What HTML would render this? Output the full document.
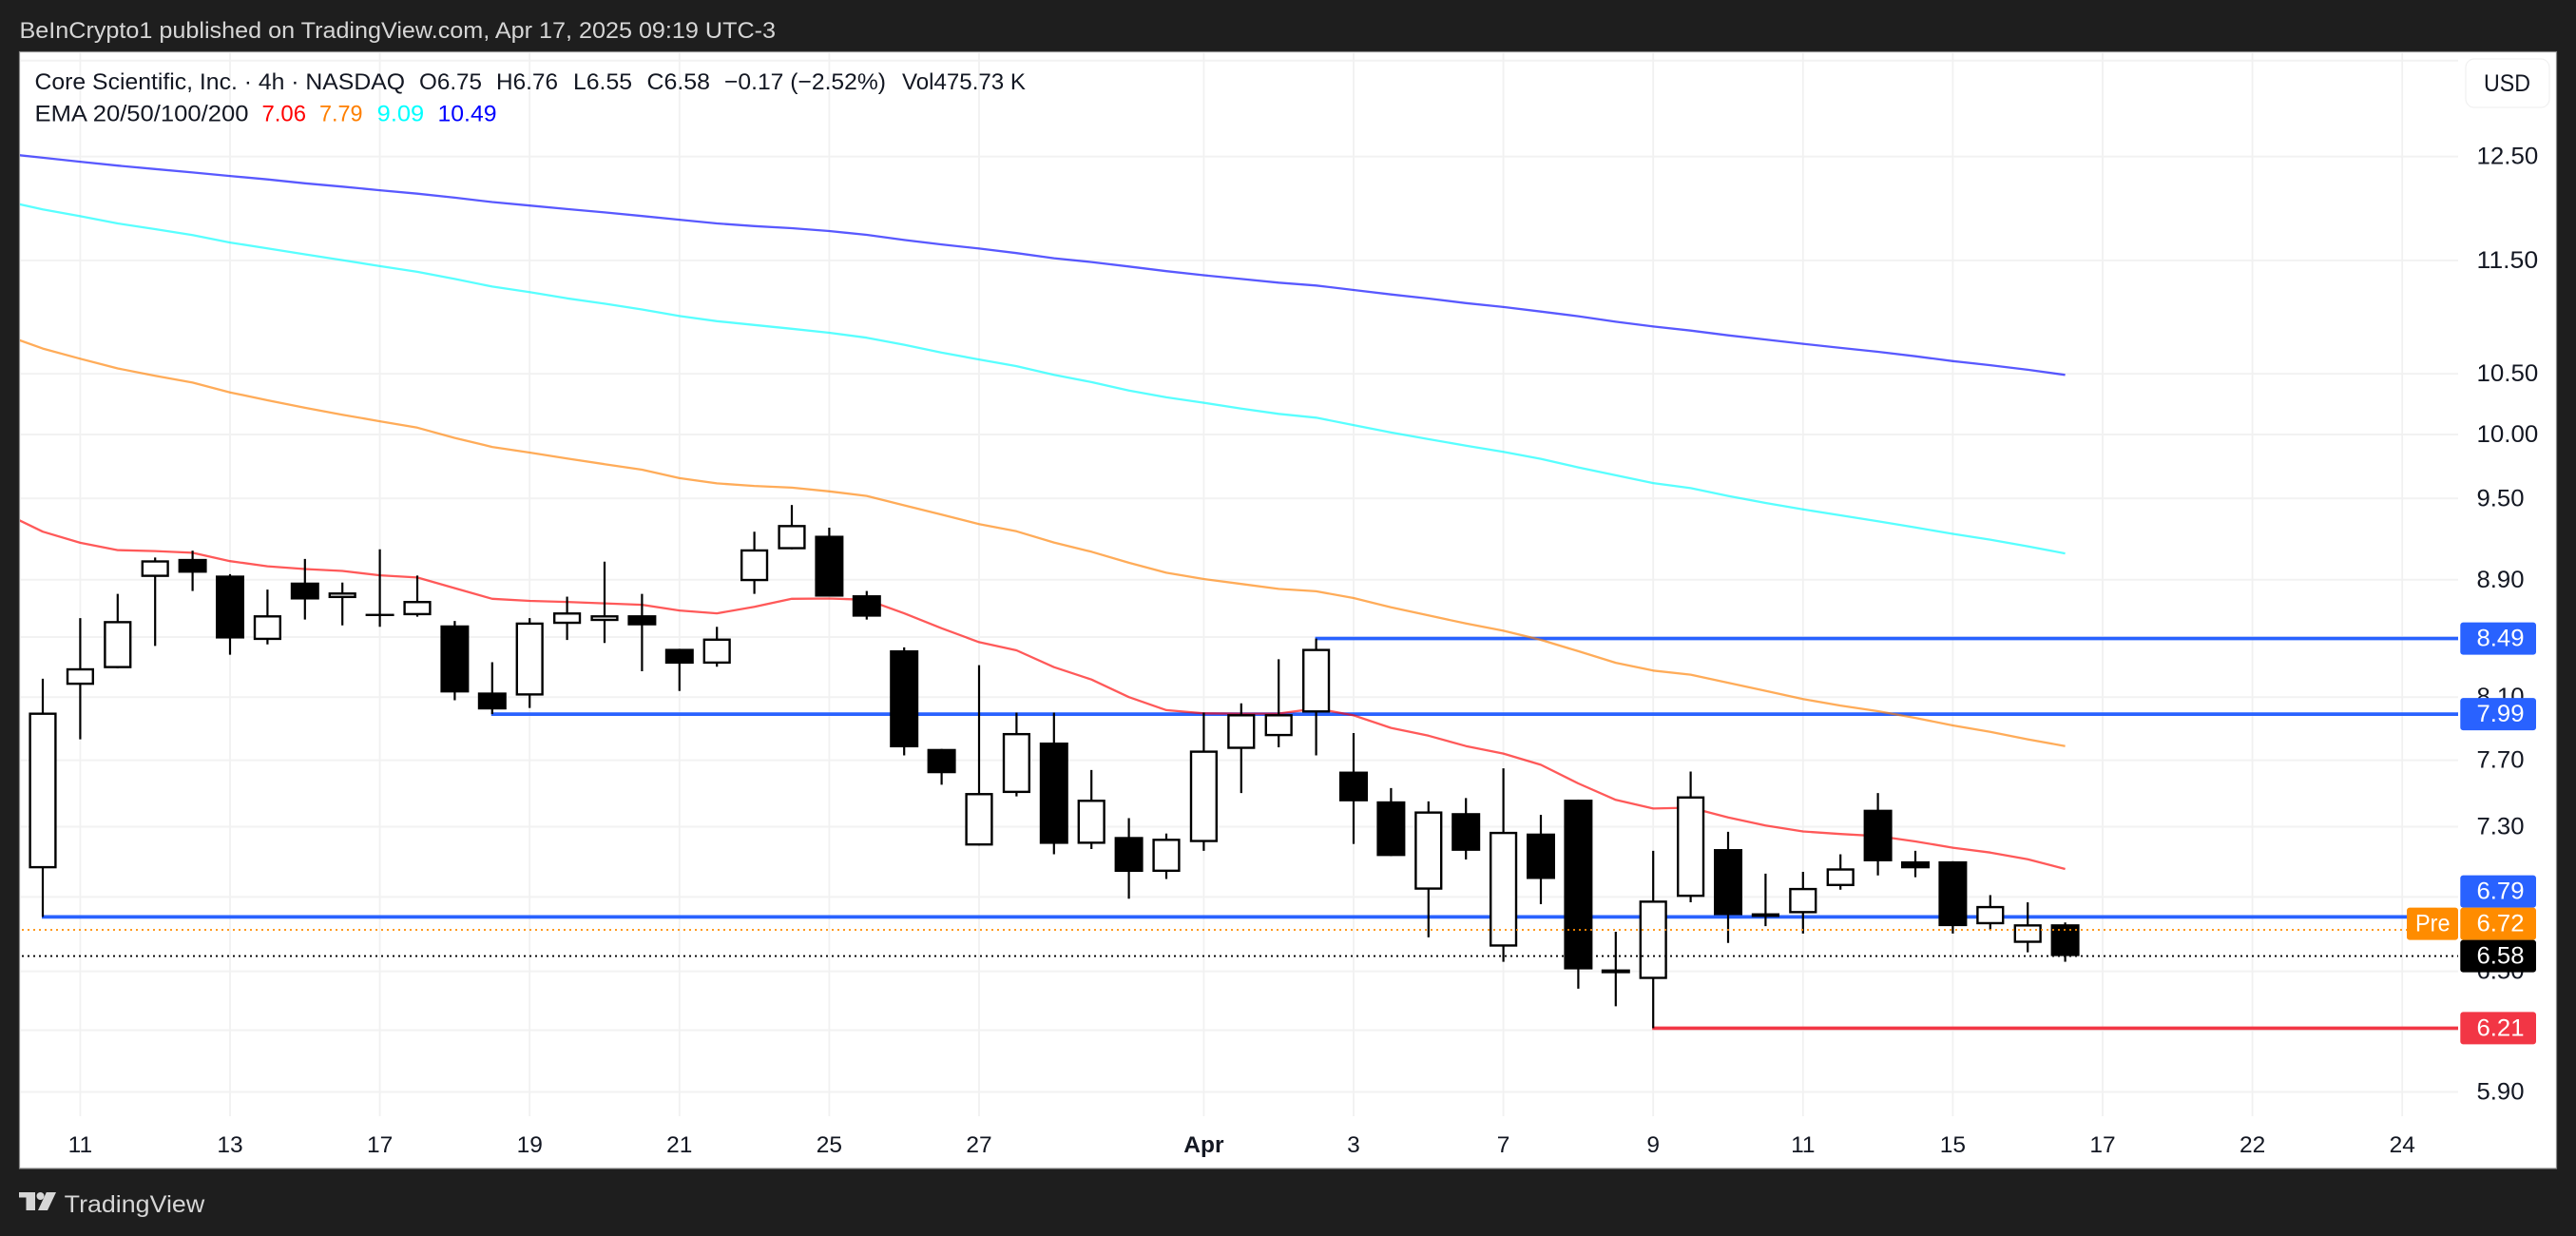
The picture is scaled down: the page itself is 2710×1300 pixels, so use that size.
<!DOCTYPE html>
<html lang="en">
<head>
<meta charset="utf-8">
<title>Core Scientific, Inc. 4h chart</title>
<style>
html,body{margin:0;padding:0;background:#1e1e1e;width:2710px;height:1300px;overflow:hidden}
svg{display:block}
text{font-family:"Liberation Sans",sans-serif}
</style>
</head>
<body>
<svg id="chart" xmlns="http://www.w3.org/2000/svg" width="2710" height="1300" viewBox="0 0 2710 1300">
  <rect x="0" y="0" width="2710" height="1300" fill="#1e1e1e"/>
  <text x="20.5" y="40" font-size="24" fill="#d6d6d6" textLength="795.5" lengthAdjust="spacingAndGlyphs">BeInCrypto1 published on TradingView.com, Apr 17, 2025 09:19 UTC-3</text>
  <rect x="20.5" y="54.5" width="2669" height="1174.5" fill="#ffffff" stroke="#8a8a8a" stroke-width="1.2"/>
  <defs>
    <clipPath id="plot-clip"><rect x="21" y="55" width="2565" height="1119"/></clipPath>
  </defs>
  <g id="grid"></g>
  <g id="levels"></g>
  <g id="emas" clip-path="url(#plot-clip)"></g>
  <g id="candles"></g>
  <g id="dots"></g>
  <g id="yaxis"></g>
  <g id="xaxis"></g>
  <g id="tags"></g>

  <g>
    <rect x="2594" y="62" width="88" height="51" rx="9" fill="#ffffff" stroke="#f0f0f0" stroke-width="1.2"/>
    <text x="2613" y="96" font-size="25" fill="#131722" textLength="49" lengthAdjust="spacingAndGlyphs">USD</text>
  </g>

  <g font-size="24.5" fill="#131722">
    <text x="36.5" y="94" textLength="389.5" lengthAdjust="spacingAndGlyphs">Core Scientific, Inc. · 4h · NASDAQ</text>
    <text x="441" y="94" textLength="66" lengthAdjust="spacingAndGlyphs">O6.75</text>
    <text x="522" y="94" textLength="65" lengthAdjust="spacingAndGlyphs">H6.76</text>
    <text x="603" y="94" textLength="62" lengthAdjust="spacingAndGlyphs">L6.55</text>
    <text x="680.5" y="94" textLength="66.5" lengthAdjust="spacingAndGlyphs">C6.58</text>
    <text x="762" y="94" textLength="170" lengthAdjust="spacingAndGlyphs">−0.17 (−2.52%)</text>
    <text x="949" y="94" textLength="130" lengthAdjust="spacingAndGlyphs">Vol475.73 K</text>
  </g>
  <g font-size="24.5">
    <text x="36.5" y="127.7" fill="#131722" textLength="225" lengthAdjust="spacingAndGlyphs">EMA 20/50/100/200</text>
    <text x="275.5" y="127.7" fill="#ff0000" textLength="46.5" lengthAdjust="spacingAndGlyphs">7.06</text>
    <text x="336" y="127.7" fill="#ff7f00" textLength="45.5" lengthAdjust="spacingAndGlyphs">7.79</text>
    <text x="396.7" y="127.7" fill="#00ffff" textLength="49.5" lengthAdjust="spacingAndGlyphs">9.09</text>
    <text x="460.5" y="127.7" fill="#0000ff" textLength="62" lengthAdjust="spacingAndGlyphs">10.49</text>
  </g>

  <g>
    <path fill="#d6d6d6" d="M20 1254H37V1273H27.5V1259.5H20ZM48.8 1254H59L50 1273H40Z"/>
    <circle cx="42.5" cy="1258" r="4" fill="#d6d6d6"/>
    <text x="67.7" y="1275" font-size="25" fill="#d6d6d6" textLength="147.5" lengthAdjust="spacingAndGlyphs">TradingView</text>
  </g>
</svg>

<script>
// ---- candles, bars 0..54 ----
const opens = [7.06,8.18,8.29,8.92,9.05,8.93,8.48,8.88,8.77,8.66,
  8.65,8.58,8.13,8.11,8.59,8.61,8.65,8.42,8.32,8.89,
  9.12,9.22,8.79,8.41,7.77,7.19,7.50,7.81,7.20,7.24,
  7.04,7.21,7.77,7.85,8.00,7.63,7.45,6.94,7.38,6.63,
  7.26,7.46,6.51,6.46,6.90,7.17,6.79,6.81,6.96,7.40,
  7.10,7.10,6.75,6.65,6.75];
const highs = [8.22,8.63,8.80,9.06,9.11,8.94,8.83,9.05,8.88,9.12,
  8.93,8.61,8.33,8.63,8.78,9.03,8.80,8.42,8.57,9.25,
  9.45,9.28,8.82,8.43,7.77,8.31,8.00,8.00,7.64,7.35,
  7.26,8.00,8.06,8.35,8.49,7.87,7.53,7.45,7.47,7.65,
  7.37,7.46,6.71,7.16,7.63,7.27,7.03,7.04,7.14,7.50,
  7.16,7.10,6.91,6.87,6.76];
const lows = [6.79,7.83,8.29,8.44,8.82,8.38,8.45,8.62,8.58,8.57,
  8.64,8.08,7.99,8.03,8.48,8.46,8.27,8.14,8.30,8.80,
  9.12,8.78,8.62,7.73,7.55,7.19,7.48,7.14,7.17,6.89,
  7.00,7.16,7.50,7.78,7.73,7.20,7.13,6.68,7.11,6.55,
  6.86,6.41,6.32,6.21,6.87,6.65,6.74,6.70,6.94,7.02,
  7.01,6.70,6.72,6.60,6.55];
const closes = [8.00,8.29,8.61,9.04,8.95,8.49,8.65,8.76,8.81,8.66,
  8.75,8.13,8.02,8.60,8.67,8.65,8.58,8.32,8.49,9.12,
  9.30,8.78,8.64,7.78,7.62,7.50,7.87,7.20,7.46,7.04,
  7.23,7.76,7.99,7.99,8.42,7.45,7.13,7.39,7.16,7.27,
  7.00,6.51,6.49,6.88,7.48,6.80,6.81,6.95,7.06,7.10,
  7.06,6.74,6.85,6.75,6.58];

// ---- moving averages, bars -1..54 ----
const ema20 = [9.386,9.250,9.168,9.114,9.107,9.095,9.034,8.997,8.977,8.963,8.932,
  8.916,8.840,8.765,8.750,8.743,8.733,8.723,8.683,8.663,8.709,
  8.765,8.767,8.758,8.663,8.560,8.465,8.410,8.297,8.215,8.100,
  8.016,7.995,7.993,7.994,8.026,7.982,7.902,7.853,7.788,7.741,
  7.672,7.558,7.459,7.407,7.412,7.355,7.307,7.272,7.257,7.245,
  7.214,7.178,7.150,7.112,7.056];
const ema50 = [10.830,10.714,10.627,10.545,10.483,10.426,10.344,10.279,10.217,10.160,10.107,
  10.055,9.973,9.901,9.856,9.809,9.765,9.722,9.656,9.616,9.596,
  9.583,9.554,9.519,9.448,9.377,9.307,9.253,9.170,9.102,9.022,
  8.950,8.905,8.870,8.835,8.818,8.770,8.705,8.649,8.593,8.543,
  8.481,8.404,8.326,8.274,8.247,8.194,8.141,8.087,8.045,8.009,
  7.966,7.918,7.877,7.830,7.788];
const ema100 = [12.060,11.980,11.915,11.846,11.792,11.735,11.666,11.612,11.556,11.502,11.447,
  11.395,11.330,11.261,11.210,11.155,11.107,11.056,10.998,10.952,10.919,
  10.886,10.851,10.808,10.747,10.679,10.621,10.564,10.491,10.430,10.360,
  10.303,10.258,10.211,10.167,10.136,10.076,10.016,9.963,9.911,9.862,
  9.807,9.740,9.678,9.618,9.579,9.519,9.466,9.417,9.372,9.328,
  9.281,9.234,9.191,9.142,9.090];
const ema200 = [12.528,12.487,12.447,12.409,12.375,12.341,12.306,12.272,12.234,12.201,12.166,
  12.132,12.094,12.051,12.017,11.983,11.951,11.917,11.881,11.846,11.821,
  11.801,11.774,11.738,11.690,11.648,11.610,11.567,11.520,11.485,11.444,
  11.401,11.364,11.330,11.296,11.270,11.230,11.190,11.153,11.112,11.078,
  11.037,10.996,10.947,10.906,10.870,10.829,10.792,10.755,10.720,10.687,
  10.648,10.607,10.572,10.534,10.490];

// ---- axes ----
const gridPrices = [13.5,12.5,11.5,10.5,10,9.5,8.9,8.5,8.1,7.7,7.3,6.9,6.5,6.2,5.9];
const priceTickLabels = ['12.50','11.50','10.50','10.00','9.50','8.90','8.10','7.70','7.30','6.50','5.90'];
const timeTickLabels = ['11','13','17','19','21','25','27','Apr','3','7','9','11','15','17','22','24'];
const timeTickBars = [1,5,9,13,17,21,25,31,35,39,43,47,51,55,59,63];

// ---- horizontal levels ----
const resistanceLevels = [8.49,7.99,6.79];
const resistanceStartBars = [34,12,0];
const supportLevels = [6.21];
const supportStartBars = [43];
const premarketPrice = 6.72;
const lastPrice = 6.58;

const NS = 'http://www.w3.org/2000/svg';
const PLOT_RIGHT = 2586;
const PLOT_BOTTOM = 1174;
function xScale(bar){ return 45 + 39.4 * bar; }
function yScale(price){ return 3474.8 - 1310.6 * Math.log(price); }
function make(tag, attrs, parent){
  const el = document.createElementNS(NS, tag);
  for (const k in attrs) el.setAttribute(k, attrs[k]);
  parent.appendChild(el);
  return el;
}
const gridG = document.getElementById('grid');
const levelsG = document.getElementById('levels');
const emasG = document.getElementById('emas');
const candlesG = document.getElementById('candles');
const dotsG = document.getElementById('dots');
const yaxisG = document.getElementById('yaxis');
const xaxisG = document.getElementById('xaxis');
const tagsG = document.getElementById('tags');

// grid
gridPrices.forEach(function(p){
  const y = yScale(p);
  const el = make('line', {x1:21, x2:PLOT_RIGHT, y1:y, y2:y, stroke:'#f2f2f2', 'stroke-width':2}, gridG);
  
  
});
timeTickBars.forEach(function(b){
  const x = xScale(b);
  const el = make('line', {x1:x, x2:x, y1:55, y2:PLOT_BOTTOM, stroke:'#f1f1f1', 'stroke-width':1.8}, gridG);
  
  
});

// levels
resistanceLevels.forEach(function(p, i){
  const y = yScale(p);
  const el = make('line', {x1:xScale(resistanceStartBars[i]) - 1, x2:PLOT_RIGHT, y1:y, y2:y, stroke:'#2962ff', 'stroke-width':3.7}, levelsG);
  
  
});
supportLevels.forEach(function(p, i){
  const y = yScale(p);
  const el = make('line', {x1:xScale(supportStartBars[i]) - 1, x2:PLOT_RIGHT, y1:y, y2:y, stroke:'#f23645', 'stroke-width':3.7}, levelsG);
  
  
});

// EMAs
function drawEma(values, colour, name){
  const pts = values.map(function(v, i){
    return xScale(i - 1).toFixed(1) + ',' + yScale(v).toFixed(1);
  }).join(' ');
  const el = make('polyline', {points:pts, fill:'none', stroke:colour, 'stroke-width':2.3, 'stroke-opacity':0.65, 'stroke-linejoin':'round'}, emasG);
  
  
}
drawEma(ema200, '#0000ff', 'ema-200-line');
drawEma(ema100, '#00ffff', 'ema-100-line');
drawEma(ema50, '#ff7f00', 'ema-50-line');
drawEma(ema20, '#ff0000', 'ema-20-line');

// candles
opens.forEach(function(o, i){
  const c = closes[i];
  const x = xScale(i);
  const up = c > o;
  const top = yScale(Math.max(o, c));
  const bottom = yScale(Math.min(o, c));
  const wick = make('line', {x1:x, x2:x, y1:yScale(highs[i]), y2:yScale(lows[i]), stroke:'#000000', 'stroke-width':2.2}, candlesG);
  
  
  let body;
  if (up) {
    body = make('rect', {x:x - 13.4, y:top + 1.2, width:26.8, height:Math.max(bottom - top - 2.4, 1.5), fill:'#ffffff', stroke:'#000000', 'stroke-width':2.4}, candlesG);
  } else {
    body = make('rect', {x:x - 15, y:top, width:30, height:Math.max(bottom - top, 2.4), fill:'#000000'}, candlesG);
  }
  
  
});

// dotted price lines
const preLine = make('line', {x1:23, x2:2532, y1:yScale(premarketPrice), y2:yScale(premarketPrice), stroke:'#ff8c00', 'stroke-width':1.8, 'stroke-dasharray':'2 4'}, dotsG);


const lastLine = make('line', {x1:23, x2:PLOT_RIGHT, y1:yScale(lastPrice), y2:yScale(lastPrice), stroke:'#000000', 'stroke-width':1.8, 'stroke-dasharray':'2 4'}, dotsG);



// price axis labels
function labelWidth(s){ return (s.length - 1) * 14.7 + 5.9; }
priceTickLabels.forEach(function(s){
  const t = make('text', {x:2605.5, y:yScale(parseFloat(s)) + 8, 'font-size':25, fill:'#131722', textLength:labelWidth(s), lengthAdjust:'spacingAndGlyphs'}, yaxisG);
  t.textContent = s;
  
  
});

// time axis labels
timeTickLabels.forEach(function(s, i){
  const t = make('text', {x:xScale(timeTickBars[i]), y:1212, 'font-size':24.5, fill:'#131722', 'text-anchor':'middle'}, xaxisG);
  if (s === 'Apr') t.setAttribute('font-weight', 'bold');
  t.textContent = s;
  
  
});

// price tags: the three close values stack upward so they do not collide
const TAG_H = 34;
function drawTag(value, colour, cy){
  const r = make('rect', {x:2588.3, y:cy - TAG_H / 2, width:79.7, height:TAG_H, rx:3, fill:colour}, tagsG);
  
  
  const s = value.toFixed(2);
  const t = make('text', {x:2605.5, y:cy + 8, 'font-size':25, fill:'#ffffff', textLength:labelWidth(s), lengthAdjust:'spacingAndGlyphs'}, tagsG);
  t.textContent = s;
  
  
}
const lastCentre = yScale(lastPrice);
const preCentre = Math.min(yScale(premarketPrice), lastCentre - TAG_H);
const supportCentre = Math.min(yScale(resistanceLevels[2]), preCentre - TAG_H);
drawTag(resistanceLevels[2], '#2962ff', supportCentre);
drawTag(premarketPrice, '#ff8c00', preCentre);
drawTag(lastPrice, '#000000', lastCentre);
drawTag(resistanceLevels[1], '#2962ff', yScale(resistanceLevels[1]));
drawTag(resistanceLevels[0], '#2962ff', yScale(resistanceLevels[0]));
drawTag(supportLevels[0], '#f23645', yScale(supportLevels[0]));

const preBox = make('rect', {x:2532, y:preCentre - TAG_H / 2, width:54, height:TAG_H, rx:3, fill:'#ff8c00'}, tagsG);


const preText = make('text', {x:2541, y:preCentre + 8, 'font-size':25, fill:'#ffffff', textLength:36.5, lengthAdjust:'spacingAndGlyphs'}, tagsG);
preText.textContent = 'Pre';


</script>
</body>
</html>
